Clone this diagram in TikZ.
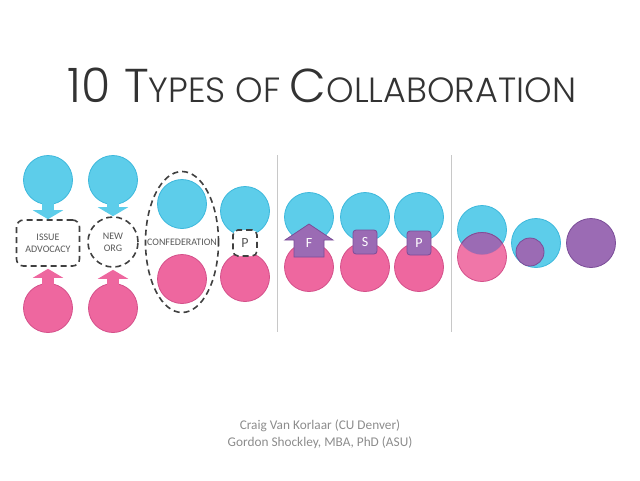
\documentclass[tikz,border=0pt]{standalone}
\usepackage{fontspec}
\setmainfont{Carlito}
\newfontfamily\titlefont{Poppins Light}
\usetikzlibrary{arrows.meta, shapes.geometric}
\definecolor{bluefill}{HTML}{5DCDEA}
\definecolor{blueline}{HTML}{3DB8DC}
\definecolor{pinkfill}{HTML}{EE679F}
\definecolor{pinkline}{HTML}{D4508A}
\definecolor{purplefill}{HTML}{9B6BB4}
\definecolor{purpleline}{HTML}{7B4D98}
\definecolor{dashgrey}{HTML}{404040}
\definecolor{labelgrey}{HTML}{595959}
\definecolor{rulegrey}{HTML}{C8C8C8}
\newcommand{\titlecap}[1]{{\fontsize{47.5}{47.5}\selectfont #1}}

\begin{document}
\begin{tikzpicture}[x=1pt, y=-1pt,
    bluecirc/.style={circle, draw=blueline, fill=bluefill, line width=0.8pt, minimum size=49pt, inner sep=0pt},
    pinkcirc/.style={circle, draw=pinkline, fill=pinkfill, line width=0.8pt, minimum size=49pt, inner sep=0pt},
    dashed line/.style={draw=dashgrey, line width=1.6pt, dash pattern=on 6pt off 4pt},
    dashbox/.style={dashed line, rectangle, rounded corners=7pt, fill=white, text=labelgrey, align=center, inner sep=0pt, font=\fontsize{10}{12}\selectfont},
    letterbox/.style={rectangle, rounded corners=3pt, fill=purplefill, draw=purpleline, line width=0.8pt, minimum size=24pt, inner sep=0pt, text=white, font=\fontsize{14}{14}\selectfont},
    blockarrow/.style={line width=12pt, -{Triangle[width=30pt, length=9pt]}, shorten <=-4pt},
    divider/.style={draw=rulegrey, line width=1pt}]
\useasboundingbox (0,0) rectangle (640,480);

\node[anchor=base, text=black!80] (title) at (322,102)
    {\titlefont\fontsize{35}{35}\selectfont\titlecap{10 T}YPES OF \titlecap{C}OLLABORATION};

% issue advocacy
\node[bluecirc] (b1) at (48,180) {};
\node[dashbox, minimum width=63pt, minimum height=46pt] (ia) at (48,243) {ISSUE\\ADVOCACY};
\node[pinkcirc] (p1) at (48,308) {};
\draw[blockarrow, bluefill] (b1) -- (ia);
\draw[blockarrow, pinkfill, shorten >=2pt] (p1) -- (ia);

% new org
\node[bluecirc] (b2) at (113,180) {};
\node[dashbox, circle, minimum size=50pt] (no) at (113,242) {NEW\\ORG};
\node[pinkcirc] (p2) at (113,308) {};
\draw[blockarrow, bluefill] (b2) -- (no);
\draw[blockarrow, pinkfill, shorten >=2pt] (p2) -- (no);

% confederation
\node[dashbox, ellipse, minimum width=73pt, minimum height=141pt] (cf) at (182,242) {};
\node[text=labelgrey, font=\fontsize{10}{12}\selectfont] (cft) at (cf.center) {CONFEDERATION};
\node[bluecirc] (b3) at (182,204) {};
\node[pinkcirc] (p3) at (182,279) {};

% partnership
\node[bluecirc] (b4) at (245,211) {};
\node[pinkcirc] (p4) at (245,277) {};
\node[dashbox, rounded corners=5pt, minimum width=24pt, minimum height=26pt, font=\fontsize{14}{14}\selectfont] (pb) at (245,243) {P};

\draw[divider] (277,155) -- (277,332);
\draw[divider] (451,155) -- (451,332);

% F, S, P
\node[bluecirc] (b5) at (309,217) {};
\node[pinkcirc] (p5) at (309,267) {};
\draw[fill=purplefill, draw=purpleline, line width=0.8pt]
    (309,224) -- (333,240) -- (324,240) -- (324,257) -- (294,257) -- (294,240) -- (285,240) -- cycle;
\node[text=white, font=\fontsize{14}{14}\selectfont] (fl) at (309,243) {F};
\node[bluecirc] (b6) at (365,217) {};
\node[pinkcirc] (p6) at (365,267) {};
\node[letterbox] (sb) at (365,242) {S};
\node[bluecirc] (b7) at (419,217) {};
\node[pinkcirc] (p7) at (419,267) {};
\node[letterbox] (pp) at (419,243) {P};

% overlap, inside, merged
\node[bluecirc] (b8) at (482,230) {};
\node[pinkcirc, fill opacity=0.9] (p8) at (482,257) {};
\begin{scope}
  \clip (b8.center) circle[radius=24.5];
  \fill[purplefill, draw=purpleline, line width=0.8pt] (p8.center) circle[radius=24.5];
\end{scope}
\node[bluecirc] (b9) at (536,243) {};
\node[circle, fill=purplefill, draw=purpleline, line width=0.8pt, minimum size=28pt, inner sep=0pt] (in) at (530,252) {};
\node[circle, fill=purplefill, draw=purpleline, line width=0.8pt, minimum size=49pt, inner sep=0pt] (mg) at (591,243) {};

\node[align=center, text=black!45, font=\fontsize{13.3}{16.5}\selectfont] (auth) at (320,434)
    {Craig Van Korlaar (CU Denver)\\Gordon Shockley, MBA, PhD (ASU)};
\end{tikzpicture}
\end{document}
